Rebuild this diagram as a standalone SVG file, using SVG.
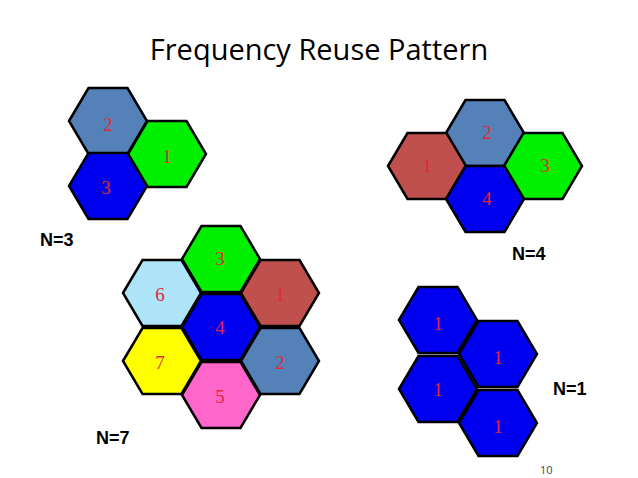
<svg xmlns="http://www.w3.org/2000/svg" xmlns:xlink="http://www.w3.org/1999/xlink" width="638" height="478" viewBox="0 0 638 478">
<style>
.h{stroke:#000;stroke-width:2.5}
.n{font-family:"Liberation Serif",serif;font-size:19px;fill:#e0283a;text-anchor:middle}
.l{font-family:"Liberation Sans",Arial,sans-serif;font-size:18px;font-weight:bold;fill:#000}
</style>
<defs><path id="hex" d="M-39,0 L-19.5,-33 L19.5,-33 L39,0 L19.5,33 L-19.5,33 Z"/></defs>
<rect width="638" height="478" fill="#fff"/>
<text x="319" y="60" text-anchor="middle" font-family="'Open Sans',sans-serif" font-size="29">Frequency Reuse Pattern</text>
<g id="n3">
<use href="#hex" class="h" fill="#5581b9" x="108" y="121"/><text class="n" x="108" y="131">2</text>
<use href="#hex" class="h" fill="#00f000" x="167" y="154"/><text class="n" x="167" y="163" fill="#c06020">1</text>
<use href="#hex" class="h" fill="#0000f0" x="108" y="186"/><text class="n" x="106" y="194">3</text>
<text class="l" x="40" y="246">N=3</text>
</g>
<g id="n4">
<use href="#hex" class="h" fill="#5581b9" x="485" y="133"/><text class="n" x="487" y="139">2</text>
<use href="#hex" class="h" fill="#c0504d" x="427" y="166"/><text class="n" x="427" y="172">1</text>
<use href="#hex" class="h" fill="#00f000" x="543" y="166"/><text class="n" x="545" y="172">3</text>
<use href="#hex" class="h" fill="#0000f0" x="485" y="199"/><text class="n" x="487" y="205">4</text>
<text class="l" x="512" y="260">N=4</text>
</g>
<g id="n7">
<use href="#hex" class="h" fill="#00f000" x="221" y="259"/><text class="n" x="220" y="265">3</text>
<use href="#hex" class="h" fill="#aee4f8" x="162" y="293"/><text class="n" x="160" y="301">6</text>
<use href="#hex" class="h" fill="#c0504d" x="280" y="293"/><text class="n" x="280" y="301">1</text>
<use href="#hex" class="h" fill="#0000f0" x="221" y="327"/><text class="n" x="220" y="334">4</text>
<use href="#hex" class="h" fill="#ffff00" x="162" y="361"/><text class="n" x="160" y="369">7</text>
<use href="#hex" class="h" fill="#5581b9" x="280" y="361"/><text class="n" x="280" y="369">2</text>
<use href="#hex" class="h" fill="#ff66cc" x="221" y="395"/><text class="n" x="220" y="403">5</text>
<text class="l" x="96" y="444">N=7</text>
</g>
<g id="n1">
<use href="#hex" class="h" fill="#0000f0" x="438" y="320"/><text class="n" x="438" y="330">1</text>
<use href="#hex" class="h" fill="#0000f0" x="498" y="354"/><text class="n" x="498" y="364">1</text>
<use href="#hex" class="h" fill="#0000f0" x="438" y="389"/><text class="n" x="438" y="396">1</text>
<use href="#hex" class="h" fill="#0000f0" x="498" y="423"/><text class="n" x="498" y="433">1</text>
<text class="l" x="553" y="395">N=1</text>
</g>
<text x="540" y="474" font-family="'Open Sans',sans-serif" font-size="11" fill="#444">10</text>
</svg>
